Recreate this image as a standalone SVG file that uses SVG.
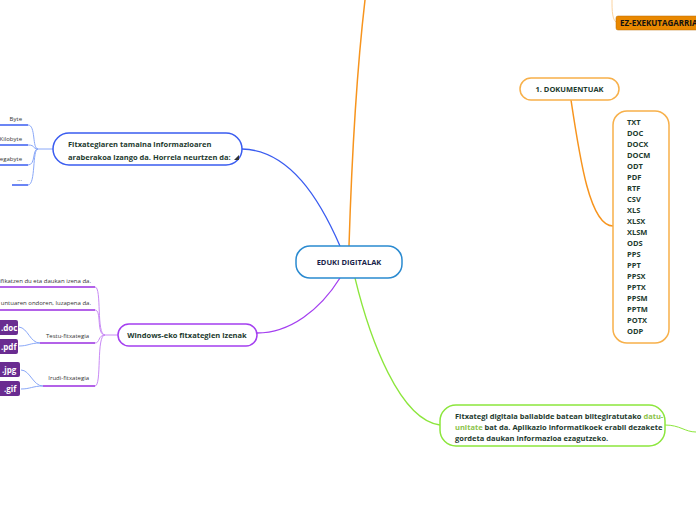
<svg xmlns="http://www.w3.org/2000/svg" width="696" height="520" viewBox="0 0 696 520">
<style>
text{font-family:"Open Sans","Noto Sans","Liberation Sans",sans-serif;fill:#1d3a2e}
.b{font-weight:bold}
.s{font-size:6px;fill:#333;font-weight:normal}
.m{font-size:7.5px;font-weight:bold}
.node{fill:#fff;stroke-width:1.5}
.tag{fill:#6a2c91}
.tt{font-size:8px;font-weight:bold;fill:#fff}
</style>
<rect width="696" height="520" fill="#fff"/>
<g id="connectors" fill="none">
<path d="M349,246 C352,150 358,60 365,0" stroke="#f7941d" stroke-width="1.5"/>
<path d="M340,246 C320,200 290,150 242,149" stroke="#3a5cf0" stroke-width="1.3"/>
<path d="M340,278 C320,310 290,333 257,333" stroke="#a43ff0" stroke-width="1.3"/>
<path d="M355,278 C370,340 400,420 440,425" stroke="#8ce63c" stroke-width="1.3"/>
<path d="M665,425 C680,425 685,432 696,432" stroke="#8ce63c" stroke-width="1"/>
<path d="M571,100 C580,160 590,226 613,226" stroke="#f7941d" stroke-width="1.5"/>
<path d="M612,0 C612,10 612,22 618,23" stroke="#fbd3a0" stroke-width="1"/>
<g stroke="#8aa8f8" stroke-width="1">
<path d="M53,149 L38,149"/>
<path d="M38,149 C32,149 36,125 28,125"/>
<path d="M38,149 C32,149 36,145 28,145"/>
<path d="M38,149 C32,149 36,165 28,165"/>
<path d="M38,149 C32,149 36,185 28,185"/>
</g>
<g stroke="#3a5cf0" stroke-width="1.5">
<path d="M0,125 H28"/><path d="M0,145 H28"/><path d="M0,165 H28"/><path d="M12,185 H28"/>
</g>
<g stroke="#c98af5" stroke-width="1">
<path d="M118,335 L105,335"/>
<path d="M105,335 C96,335 102,287 95,287"/>
<path d="M105,335 C96,335 102,310 95,310"/>
<path d="M105,335 C98,335 100,343 95,343"/>
<path d="M105,335 C96,335 102,386 95,386"/>
</g>
<g stroke="#9a2ee0" stroke-width="1.5">
<path d="M0,287 H95"/><path d="M0,310 H95"/><path d="M40,343 H95"/><path d="M43,386 H95"/>
</g>
<g stroke="#8aa8f8" stroke-width="1">
<path d="M40,343 C30,343 28,328 19,327"/>
<path d="M40,343 C30,343 28,346 19,346"/>
<path d="M43,386 C33,386 30,370 21,370"/>
<path d="M43,386 C33,386 30,389 21,389"/>
</g>
</g>
<g id="center">
<rect x="296" y="246" width="106" height="32" rx="14" class="node" stroke="#2a8ad0" stroke-width="3.5"/>
<text x="349" y="265" text-anchor="middle" class="m" style="fill:#1a1f4a">EDUKI DIGITALAK</text>
</g>
<g id="size">
<rect x="53" y="133" width="189" height="32" rx="16" class="node" stroke="#3a5cf0"/>
<text x="68" y="147" class="m">Fitxategiaren tamaina informazioaren</text>
<text x="68" y="160" class="m">araberakoa izango da. Horrela neurtzen da:</text>
<path d="M239,160 L239,155 L234,160 Z" fill="#333"/>
<text x="22" y="121" class="s" text-anchor="end">Byte</text>
<text x="22" y="141" class="s" text-anchor="end">Kilobyte</text>
<text x="22" y="161" class="s" text-anchor="end">Megabyte</text>
<text x="22" y="181" class="s" text-anchor="end">...</text>
</g>
<g id="windows">
<rect x="118" y="324" width="139" height="22" rx="11" class="node" stroke="#a43ff0"/>
<text x="187" y="338" text-anchor="middle" class="m">Windows-eko fitxategien izenak</text>
<text x="91" y="283" class="s" text-anchor="end">ifikatzen du eta daukan izena da.</text>
<text x="91" y="305" class="s" text-anchor="end">untuaren ondoren, luzapena da.</text>
<text x="89" y="338" class="s" text-anchor="end">Testu-fitxategia</text>
<text x="89" y="380" class="s" text-anchor="end">Irudi-fitxategia</text>
<rect x="-4" y="320" width="22" height="15" rx="2" class="tag"/><text x="1" y="331" class="tt">.doc</text>
<rect x="-4" y="339" width="22" height="15" rx="2" class="tag"/><text x="1" y="350" class="tt">.pdf</text>
<rect x="-4" y="362" width="24" height="15" rx="2" class="tag"/><text x="2" y="373" class="tt">.jpg</text>
<rect x="-4" y="381" width="24" height="15" rx="2" class="tag"/><text x="4" y="392" class="tt">.gif</text>
</g>
<g id="definition">
<rect x="440" y="405" width="225" height="41" rx="16" class="node" stroke="#8ce63c"/>
<text x="455" y="419" class="m">Fitxategi digitala baliabide batean biltegiratutako <tspan style="fill:#8bc34a">datu-</tspan></text>
<text x="455" y="430" class="m"><tspan style="fill:#8bc34a">unitate</tspan> bat da. Aplikazio informatikoek erabil dezakete</text>
<text x="455" y="441" class="m">gordeta daukan informazioa ezagutzeko.</text>
</g>
<g id="ezexe">
<rect x="616" y="16" width="84" height="14" rx="2" fill="#e98800" stroke="#b86a00" stroke-width="0.5"/>
<text x="620" y="26" class="tt" style="fill:#111">EZ-EXEKUTAGARRIA</text>
</g>
<g id="dokumentuak">
<rect x="520" y="78" width="99" height="22" rx="11" class="node" stroke="#f7b04a"/>
<text x="569.5" y="92" text-anchor="middle" class="m">1. DOKUMENTUAK</text>
</g>
<g id="list">
<rect x="613" y="111" width="56" height="232" rx="14" class="node" stroke="#f7b04a" stroke-width="1.2"/>
<g class="m">
<text x="627" y="125">TXT</text><text x="627" y="136">DOC</text><text x="627" y="147">DOCX</text><text x="627" y="158">DOCM</text>
<text x="627" y="169">ODT</text><text x="627" y="180">PDF</text><text x="627" y="191">RTF</text><text x="627" y="202">CSV</text>
<text x="627" y="213">XLS</text><text x="627" y="224">XLSX</text><text x="627" y="235">XLSM</text><text x="627" y="246">ODS</text>
<text x="627" y="257">PPS</text><text x="627" y="268">PPT</text><text x="627" y="279">PPSX</text><text x="627" y="290">PPTX</text>
<text x="627" y="301">PPSM</text><text x="627" y="312">PPTM</text><text x="627" y="323">POTX</text><text x="627" y="334">ODP</text>
</g>
</g>
</svg>
